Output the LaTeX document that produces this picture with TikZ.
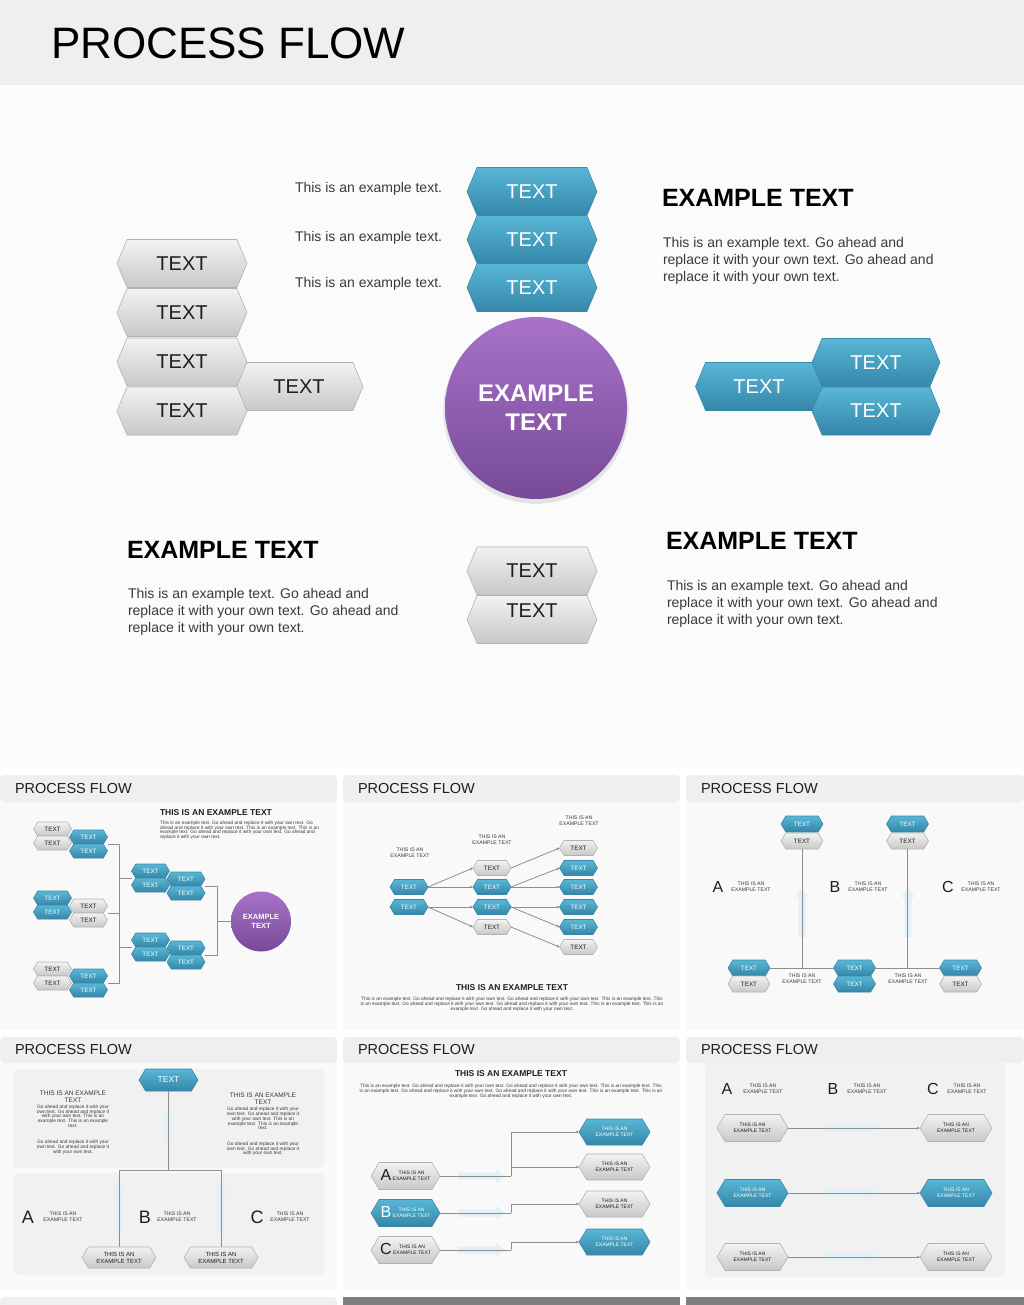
\documentclass[tikz,border=0pt]{standalone}
\usepackage{fontspec}
\setmainfont{Liberation Sans}
\usetikzlibrary{arrows.meta,shadows}
\makeatletter
\pgfkeys{/pgf/hexa indent/.initial=0.21}
\pgfdeclareshape{hexa}{%
  \inheritsavedanchors[from=rectangle]%
  \inheritanchorborder[from=rectangle]%
  \inheritanchor[from=rectangle]{center}%
  \inheritanchor[from=rectangle]{mid}%
  \inheritanchor[from=rectangle]{base}%
  \inheritanchor[from=rectangle]{north}%
  \inheritanchor[from=rectangle]{south}%
  \inheritanchor[from=rectangle]{east}%
  \inheritanchor[from=rectangle]{west}%
  \inheritanchor[from=rectangle]{north east}%
  \inheritanchor[from=rectangle]{north west}%
  \inheritanchor[from=rectangle]{south east}%
  \inheritanchor[from=rectangle]{south west}%
  \backgroundpath{%
    \southwest\edef\hexXa{\the\pgf@x}\edef\hexYa{\the\pgf@y}%
    \northeast\edef\hexXb{\the\pgf@x}\edef\hexYb{\the\pgf@y}%
    \pgfmathsetlengthmacro\hexYm{0.5*(\hexYa+\hexYb)}%
    \pgfmathsetlengthmacro\hexInd{\pgfkeysvalueof{/pgf/hexa indent}*(\hexYb-\hexYa)}%
    \pgfmathsetlengthmacro\hexXai{\hexXa+\hexInd}%
    \pgfmathsetlengthmacro\hexXbi{\hexXb-\hexInd}%
    \pgfpathmoveto{\pgfqpoint{\hexXa}{\hexYm}}%
    \pgfpathlineto{\pgfqpoint{\hexXai}{\hexYb}}%
    \pgfpathlineto{\pgfqpoint{\hexXbi}{\hexYb}}%
    \pgfpathlineto{\pgfqpoint{\hexXb}{\hexYm}}%
    \pgfpathlineto{\pgfqpoint{\hexXbi}{\hexYa}}%
    \pgfpathlineto{\pgfqpoint{\hexXai}{\hexYa}}%
    \pgfpathclose
  }%
}
\makeatother
\newcommand{\fsz}[2]{\fontsize{#1pt}{#2pt}\selectfont}
\definecolor{hdrgray}{HTML}{EFEFEF}
\definecolor{bodybg}{HTML}{FBFBFB}
\definecolor{thumbbg}{HTML}{F9F9F9}
\definecolor{panelbg}{HTML}{F1F1F1}
\definecolor{darkbar}{HTML}{7F7F7F}
\definecolor{graytop}{HTML}{F2F2F2}
\definecolor{graybot}{HTML}{C8C8C8}
\definecolor{grayline}{HTML}{B2B2B2}
\definecolor{bluetop}{HTML}{58B7D6}
\definecolor{bluebot}{HTML}{3586A8}
\definecolor{blueline}{HTML}{3A88A8}
\definecolor{purtop}{HTML}{A872C8}
\definecolor{purbot}{HTML}{774A98}
\definecolor{txtdark}{HTML}{1E1E1E}
\definecolor{txtmid}{HTML}{3A3A3A}
\definecolor{linegray}{HTML}{8E8E8E}
\definecolor{faint}{HTML}{E2F1F7}
\newcommand{\fharrow}[3]{\fill[faint] ({#1},{#3-3.5}) -- ({#2-9},{#3-3.5}) -- ({#2-9},{#3-7}) -- ({#2},{#3}) -- ({#2-9},{#3+7}) -- ({#2-9},{#3+3.5}) -- ({#1},{#3+3.5}) -- cycle;}
\newcommand{\fvarrow}[3]{\fill[faint] ({#1-3.5},{#2}) -- ({#1-3.5},{#3+9}) -- ({#1-7},{#3+9}) -- ({#1},{#3}) -- ({#1+7},{#3+9}) -- ({#1+3.5},{#3+9}) -- ({#1+3.5},{#2}) -- cycle;}
\tikzset{
  hx/.style={shape=hexa, outer sep=0pt, inner sep=0pt, align=center},
  ghex/.style={hx, draw=grayline, line width=0.6pt, top color=graytop, bottom color=graybot, text=txtdark},
  bhex/.style={hx, draw=blueline, line width=0.6pt, top color=bluetop, bottom color=bluebot, text=white},
  bigh/.style={minimum width=130pt, minimum height=48pt, font=\fsz{20}{22}},
  smA/.style={minimum width=38pt, minimum height=14pt, font=\fsz{6.3}{7}, /pgf/hexa indent=0.3},
  smB/.style={minimum width=38pt, minimum height=15pt, font=\fsz{6.3}{7}, /pgf/hexa indent=0.3},
  smC/.style={minimum width=42pt, minimum height=16pt, font=\fsz{6.3}{7}, /pgf/hexa indent=0.3},
  midh/.style={minimum width=70pt, minimum height=27pt, font=\fsz{5}{5.8}, /pgf/hexa indent=0.3},
  txt/.style={inner sep=0pt, outer sep=0pt},
  para/.style={txt, font=\fsz{4.8}{4.7}, text=txtmid},
  lab/.style={txt, align=center, font=\fsz{5.2}{6.3}, text=txtmid},
  letter/.style={txt, font=\fsz{16}{16}, text=txtdark},
  thead/.style={txt, anchor=west, font=\fsz{14.5}{15}, text=txtdark},
  conn/.style={draw=linegray, line width=0.8pt},
  arr/.style={conn, -{Stealth[length=3.2pt,width=2.8pt]}}
}
\begin{document}
\begin{tikzpicture}[x=1pt,y=-1pt]
\useasboundingbox (0,0) rectangle (1024,1305);
\clip (0,0) rectangle (1024,1305);
\fill[white] (0,0) rectangle (1024,1305);
% ---------------- main slide ----------------
\fill[hdrgray] (0,0) rectangle (1024,85);
\fill[bodybg] (0,85) rectangle (1024,767);
\node[txt, anchor=west, font=\fsz{44}{44}, text=black] (title) at (51,43) {PROCESS FLOW};

\node[txt, anchor=base west, font=\fsz{14}{17}, text=txtmid] (s1) at (295,193) {This is an example text.};
\node[txt, anchor=base west, font=\fsz{14}{17}, text=txtmid] (s2) at (295,242) {This is an example text.};
\node[txt, anchor=base west, font=\fsz{14}{17}, text=txtmid] (s3) at (295,288) {This is an example text.};

\node[bhex, bigh] (bt1) at (532,191.5) {TEXT};
\node[bhex, bigh] (bt2) at (532,239.5) {TEXT};
\node[bhex, bigh] (bt3) at (532,287.5) {TEXT};

\node[circle, minimum size=182pt, inner sep=0pt, top color=purtop, bottom color=purbot,
      text=white, font=\bfseries\fsz{24}{29}, align=center,
      drop shadow={opacity=0.18, shadow xshift=0pt, shadow yshift=-3pt, shadow scale=1.02}] (circ) at (536,408) {EXAMPLE\\TEXT};

\node[ghex, bigh, minimum width=128pt] (gr) at (299,386.5) {TEXT};
\node[ghex, bigh] (gl1) at (182,263.5) {TEXT};
\node[ghex, bigh] (gl2) at (182,312.5) {TEXT};
\node[ghex, bigh] (gl3) at (182,362) {TEXT};
\node[ghex, bigh] (gl4) at (182,411) {TEXT};

\node[bhex, bigh, minimum width=127pt] (br0) at (759,386.5) {TEXT};
\node[bhex, bigh, minimum width=128pt] (br1) at (876,362.5) {TEXT};
\node[bhex, bigh, minimum width=128pt] (br2) at (876,411) {TEXT};

\node[ghex, bigh] (gb1) at (532,571) {TEXT};
\node[ghex, bigh] (gb2) at (532,619.5) {\raisebox{18pt}{TEXT}};

\node[txt, anchor=west, font=\bfseries\fsz{25}{25}, text=black] (h1) at (662,198) {EXAMPLE TEXT};
\node[txt, anchor=north west, align=left, font=\fsz{14}{17}, text=txtmid] (p1) at (663,237.5)
  {This is an example text. Go ahead and\\replace it with your own text. Go ahead and\\replace it with your own text.};
\node[txt, anchor=west, font=\bfseries\fsz{25}{25}, text=black] (h2) at (127,550) {EXAMPLE TEXT};
\node[txt, anchor=north west, align=left, font=\fsz{14}{17}, text=txtmid] (p2) at (128,588.5)
  {This is an example text. Go ahead and\\replace it with your own text. Go ahead and\\replace it with your own text.};
\node[txt, anchor=west, font=\bfseries\fsz{25}{25}, text=black] (h3) at (666,541) {EXAMPLE TEXT};
\node[txt, anchor=north west, align=left, font=\fsz{14}{17}, text=txtmid] (p3) at (667,580.5)
  {This is an example text. Go ahead and\\replace it with your own text. Go ahead and\\replace it with your own text.};

% ---------------- thumbnail frames ----------------
\fill[thumbbg] (0,802) rectangle (337,1030);
\fill[thumbbg] (343,802) rectangle (680,1030);
\fill[thumbbg] (686,802) rectangle (1024,1030);
\fill[thumbbg] (0,1063) rectangle (337,1290);
\fill[thumbbg] (343,1063) rectangle (680,1290);
\fill[thumbbg] (686,1063) rectangle (1024,1290);
\fill[hdrgray, rounded corners=4pt] (0,775) rectangle (337,802);
\fill[hdrgray, rounded corners=4pt] (343,775) rectangle (680,802);
\fill[hdrgray, rounded corners=4pt] (686,775) rectangle (1024,802);
\fill[hdrgray, rounded corners=4pt] (0,1037) rectangle (337,1063);
\fill[hdrgray, rounded corners=4pt] (343,1037) rectangle (680,1063);
\fill[hdrgray, rounded corners=4pt] (686,1037) rectangle (1024,1063);
\fill[hdrgray, rounded corners=4pt] (0,1297) rectangle (337,1320);
\fill[darkbar] (343,1297) rectangle (680,1320);
\fill[darkbar] (686,1297) rectangle (1024,1320);
\node[thead] (pf1) at (15,788.5) {PROCESS FLOW};
\node[thead] (pf2) at (358,788.5) {PROCESS FLOW};
\node[thead] (pf3) at (701,788.5) {PROCESS FLOW};
\node[thead] (pf4) at (15,1049.5) {PROCESS FLOW};
\node[thead] (pf5) at (358,1049.5) {PROCESS FLOW};
\node[thead] (pf6) at (701,1049.5) {PROCESS FLOW};

% ---------------- thumbnail 1 ----------------
\node[txt, anchor=west, font=\bfseries\fsz{8.5}{9}, text=txtdark] (t1h) at (160,813) {THIS IS AN EXAMPLE TEXT};
\node[para, anchor=north west, align=left] (t1p) at (160,821)
  {This is an example text. Go ahead and replace it with your own text. Go\\ahead and replace it with your own text. This is an example text. This is an\\example text. Go ahead and replace it with your own text. Go ahead and\\replace it with your own text.};
\node[ghex, smA] (t1g1a) at (52.5,829) {TEXT};
\node[ghex, smA] (t1g1b) at (52.5,843) {TEXT};
\node[bhex, smA] (t1b1a) at (88.5,837) {TEXT};
\node[bhex, smA] (t1b1b) at (88.5,851) {TEXT};
\node[bhex, smA] (t1b2a) at (52.5,898) {TEXT};
\node[bhex, smA] (t1b2b) at (52.5,912) {TEXT};
\node[ghex, smA] (t1g2a) at (88.5,906) {TEXT};
\node[ghex, smA] (t1g2b) at (88.5,920) {TEXT};
\node[ghex, smA] (t1g3a) at (52.5,969) {TEXT};
\node[ghex, smA] (t1g3b) at (52.5,983) {TEXT};
\node[bhex, smA] (t1b3a) at (88.5,976) {TEXT};
\node[bhex, smA] (t1b3b) at (88.5,990) {TEXT};
\node[bhex, smA] (t1m1a) at (150.5,871) {TEXT};
\node[bhex, smA] (t1m1b) at (150.5,885) {TEXT};
\node[bhex, smA] (t1m1c) at (186,879) {TEXT};
\node[bhex, smA] (t1m1d) at (186,893) {TEXT};
\node[bhex, smA] (t1m2a) at (150.5,940) {TEXT};
\node[bhex, smA] (t1m2b) at (150.5,954) {TEXT};
\node[bhex, smA] (t1m2c) at (186,948) {TEXT};
\node[bhex, smA] (t1m2d) at (186,962) {TEXT};
\node[circle, minimum size=60pt, inner sep=0pt, top color=purtop, bottom color=purbot,
      text=white, font=\bfseries\fsz{7.5}{8.5}, align=center] (t1c) at (261,921.5) {EXAMPLE\\TEXT};
\draw[conn] (t1b1a.south east) -- ++(12,0) |- (t1b3a.south east);
\draw[conn] (t1g2a.south east) -- ++(12,0);
\draw[conn] (t1m1a.south west) -- ++(-12,0);
\draw[conn] (t1m2a.south west) -- ++(-12,0);
\draw[conn] (t1m1c.south east) -- ++(12,0) |- (t1m2c.south east);
\draw[conn] (t1c.west) -- ++(-14,0);

% ---------------- thumbnail 2 ----------------
\node[lab] (t2l1) at (410,853) {THIS IS AN\\EXAMPLE TEXT};
\node[lab] (t2l2) at (492,840) {THIS IS AN\\EXAMPLE TEXT};
\node[lab] (t2l3) at (579,821) {THIS IS AN\\EXAMPLE TEXT};
\node[bhex, smB] (t2a1) at (409,887) {TEXT};
\node[bhex, smB] (t2a2) at (409,907) {TEXT};
\node[ghex, smB] (t2b1) at (492,868) {TEXT};
\node[bhex, smB] (t2b2) at (492,887) {TEXT};
\node[bhex, smB] (t2b3) at (492,907) {TEXT};
\node[ghex, smB] (t2b4) at (492,927) {TEXT};
\node[ghex, smB] (t2c1) at (578.5,848) {TEXT};
\node[bhex, smB] (t2c2) at (578.5,868) {TEXT};
\node[bhex, smB] (t2c3) at (578.5,887) {TEXT};
\node[bhex, smB] (t2c4) at (578.5,907) {TEXT};
\node[bhex, smB] (t2c5) at (578.5,927) {TEXT};
\node[ghex, smB] (t2c6) at (578.5,947) {TEXT};
\draw[arr] (t2a1.east) -- (t2b1.west);
\draw[arr] (t2a1.east) -- (t2b2.west);
\draw[arr] (t2a2.east) -- (t2b3.west);
\draw[arr] (t2a2.east) -- (t2b4.west);
\draw[arr] (t2b1.east) -- (t2c1.west);
\draw[arr] (t2b2.east) -- (t2c2.west);
\draw[arr] (t2b2.east) -- (t2c3.west);
\draw[arr] (t2b3.east) -- (t2c4.west);
\draw[arr] (t2b3.east) -- (t2c5.west);
\draw[arr] (t2b4.east) -- (t2c6.west);
\node[txt, font=\bfseries\fsz{8.5}{9}, text=txtdark] (t2h) at (512,988) {THIS IS AN EXAMPLE TEXT};
\node[para, anchor=north, align=center] (t2p) at (512,997.5)
  {This is an example text. Go ahead and replace it with your own text. Go ahead and replace it with your own text. This is an example text. This\\is an example text. Go ahead and replace it with your own text. Go ahead and replace it with your own text. This is an example text. This is an\\example text. Go ahead and replace it with your own text.};

% ---------------- thumbnail 3 ----------------
\fvarrow{802}{937}{888}
\fvarrow{908}{937}{888}
\node[bhex, smC] (t3u1a) at (802,824) {TEXT};
\node[ghex, smC] (t3u1b) at (802,841) {TEXT};
\node[bhex, smC] (t3u2a) at (907.5,824) {TEXT};
\node[ghex, smC] (t3u2b) at (907.5,841) {TEXT};
\node[bhex, smC] (t3d1a) at (749,968) {TEXT};
\node[ghex, smC] (t3d1b) at (749,984) {TEXT};
\node[bhex, smC] (t3d2a) at (854.5,968) {TEXT};
\node[bhex, smC] (t3d2b) at (854.5,984) {TEXT};
\node[bhex, smC] (t3d3a) at (960.5,968) {TEXT};
\node[ghex, smC] (t3d3b) at (960.5,984) {TEXT};
\draw[conn] (t3d1a.east) -- (t3d2a.west);
\draw[conn] (t3d2a.east) -- (t3d3a.west);
\draw[conn] (t3u1b.south) -- (t3u1b.south |- t3d1a.east);
\draw[conn] (t3u2b.south) -- (t3u2b.south |- t3d1a.east);
\node[letter] (t3A) at (718,887) {A};
\node[letter] (t3B) at (835,887) {B};
\node[letter] (t3C) at (948,887) {C};
\node[lab] (t3la) at (751,887) {THIS IS AN\\EXAMPLE TEXT};
\node[lab] (t3lb) at (868,887) {THIS IS AN\\EXAMPLE TEXT};
\node[lab] (t3lc) at (981,887) {THIS IS AN\\EXAMPLE TEXT};
\node[lab] (t3ld) at (802,979) {THIS IS AN\\EXAMPLE TEXT};
\node[lab] (t3le) at (908,979) {THIS IS AN\\EXAMPLE TEXT};

% ---------------- thumbnail 4 ----------------
\fill[panelbg, rounded corners=5pt] (13,1069) rectangle (324,1168);
\fill[panelbg, rounded corners=5pt] (13,1173) rectangle (324,1275);
\fvarrow{168.5}{1142}{1109}
\fvarrow{118}{1232}{1183}
\fvarrow{221}{1232}{1183}
\node[bhex, minimum width=59pt, minimum height=22pt, font=\fsz{8.5}{9}, /pgf/hexa indent=0.3] (t4top) at (168.5,1080) {TEXT};
\node[ghex, minimum width=74pt, minimum height=21pt, font=\fsz{6}{6.8}, /pgf/hexa indent=0.3] (t4l) at (119,1257.5) {THIS IS AN\\EXAMPLE TEXT};
\node[ghex, minimum width=74pt, minimum height=21pt, font=\fsz{6}{6.8}, /pgf/hexa indent=0.3] (t4r) at (221,1257.5) {THIS IS AN\\EXAMPLE TEXT};
\draw[conn] (t4top.south) -- ++(0,79.5);
\draw[conn] (t4l.north) -- ++(0,-76.5) -| (t4r.north);
\node[txt, anchor=north, align=center, font=\fsz{6.5}{7.4}, text=txtmid] (t4lh) at (73,1090.5) {THIS IS AN EXAMPLE\\TEXT};
\node[para, anchor=north, align=center] (t4lb1) at (73,1105)
  {Go ahead and replace it with your\\own text. Go ahead and replace it\\with your own text. This is an\\example text. This is an example\\text.};
\node[para, anchor=north, align=center] (t4lb2) at (73,1140.5)
  {Go ahead and replace it with your\\own text. Go ahead and replace it\\with your own text.};
\node[txt, anchor=north, align=center, font=\fsz{6.5}{7.4}, text=txtmid] (t4rh) at (263,1092.5) {THIS IS AN EXAMPLE\\TEXT};
\node[para, anchor=north, align=center] (t4rb1) at (263,1107.5)
  {Go ahead and replace it with your\\own text. Go ahead and replace it\\with your own text. This is an\\example text. This is an example\\text.};
\node[para, anchor=north, align=center] (t4rb2) at (263,1142)
  {Go ahead and replace it with your\\own text. Go ahead and replace it\\with your own text.};
\node[txt, font=\fsz{18}{18}, text=txtdark] (t4A) at (28,1217) {A};
\node[txt, font=\fsz{18}{18}, text=txtdark] (t4B) at (145,1217) {B};
\node[txt, font=\fsz{18}{18}, text=txtdark] (t4C) at (257,1217) {C};
\node[lab] (t4la) at (63,1217) {THIS IS AN\\EXAMPLE TEXT};
\node[lab] (t4lb) at (177,1217) {THIS IS AN\\EXAMPLE TEXT};
\node[lab] (t4lc) at (290,1217) {THIS IS AN\\EXAMPLE TEXT};

% ---------------- thumbnail 5 ----------------
\node[txt, font=\bfseries\fsz{8.5}{9}, text=txtdark] (t5h) at (511,1074) {THIS IS AN EXAMPLE TEXT};
\node[para, anchor=north, align=center] (t5p) at (511,1084.5)
  {This is an example text. Go ahead and replace it with your own text. Go ahead and replace it with your own text. This is an example text. This\\is an example text. Go ahead and replace it with your own text. Go ahead and replace it with your own text. This is an example text. This is an\\example text. Go ahead and replace it with your own text.};
\fharrow{458}{505}{1176}
\fharrow{458}{505}{1213}
\fharrow{458}{505}{1250}
\node[ghex, midh, minimum width=69pt] (t5A) at (405.5,1176)
  {{\fsz{16}{16}A}\hspace{1.5pt}{\fsz{5}{5.8}\begin{tabular}[b]{@{}c@{}}THIS IS AN\\EXAMPLE TEXT\end{tabular}}};
\node[bhex, midh, minimum width=69pt] (t5B) at (405.5,1213)
  {{\fsz{16}{16}B}\hspace{1.5pt}{\fsz{5}{5.8}\begin{tabular}[b]{@{}c@{}}THIS IS AN\\EXAMPLE TEXT\end{tabular}}};
\node[ghex, midh, minimum width=69pt] (t5C) at (405.5,1250)
  {{\fsz{16}{16}C}\hspace{1.5pt}{\fsz{5}{5.8}\begin{tabular}[b]{@{}c@{}}THIS IS AN\\EXAMPLE TEXT\end{tabular}}};
\node[bhex, midh, minimum width=71pt, minimum height=26pt] (t5r1) at (614.5,1132) {THIS IS AN\\EXAMPLE TEXT};
\node[ghex, midh, minimum width=71pt, minimum height=26pt] (t5r2) at (614.5,1167) {THIS IS AN\\EXAMPLE TEXT};
\node[ghex, midh, minimum width=71pt, minimum height=26pt] (t5r3) at (614.5,1204) {THIS IS AN\\EXAMPLE TEXT};
\node[bhex, midh, minimum width=71pt, minimum height=26pt] (t5r4) at (614.5,1242) {THIS IS AN\\EXAMPLE TEXT};
\coordinate (t5jA) at (511,1176);
\coordinate (t5jB) at (511,1213);
\coordinate (t5jC) at (511,1250);
\draw[conn] (t5A.east) -- (t5jA);
\draw[arr] (t5jA) |- (t5r1.west);
\draw[arr] (t5jA) |- (t5r2.west);
\draw[conn] (t5B.east) -- (t5jB);
\draw[arr] (t5jB) |- (t5r3.west);
\draw[conn] (t5C.east) -- (t5jC);
\draw[arr] (t5jC) |- (t5r4.west);

% ---------------- thumbnail 6 ----------------
\fill[panelbg, rounded corners=5pt] (705,1063) rectangle (1005,1277);
\node[letter] (t6A) at (727,1089) {A};
\node[letter] (t6B) at (833,1089) {B};
\node[letter] (t6C) at (933,1089) {C};
\node[lab] (t6la) at (763,1089) {THIS IS AN\\EXAMPLE TEXT};
\node[lab] (t6lb) at (867,1089) {THIS IS AN\\EXAMPLE TEXT};
\node[lab] (t6lc) at (967,1089) {THIS IS AN\\EXAMPLE TEXT};
\fharrow{826}{878}{1128}
\fharrow{826}{878}{1193}
\fharrow{826}{878}{1257}
\node[ghex, midh, minimum width=71pt] (t6s1) at (752.5,1128) {THIS IS AN\\EXAMPLE TEXT};
\node[bhex, midh, minimum width=71pt] (t6s2) at (752.5,1193) {THIS IS AN\\EXAMPLE TEXT};
\node[ghex, midh, minimum width=71pt] (t6s3) at (752.5,1257) {THIS IS AN\\EXAMPLE TEXT};
\node[ghex, midh, minimum width=72pt] (t6e1) at (956,1128) {THIS IS AN\\EXAMPLE TEXT};
\node[bhex, midh, minimum width=72pt] (t6e2) at (956,1193) {THIS IS AN\\EXAMPLE TEXT};
\node[ghex, midh, minimum width=72pt] (t6e3) at (956,1257) {THIS IS AN\\EXAMPLE TEXT};
\draw[arr] (t6s1.east) -- (t6e1.west);
\draw[arr] (t6s2.east) -- (t6e2.west);
\draw[arr] (t6s3.east) -- (t6e3.west);
\end{tikzpicture}
\end{document}
